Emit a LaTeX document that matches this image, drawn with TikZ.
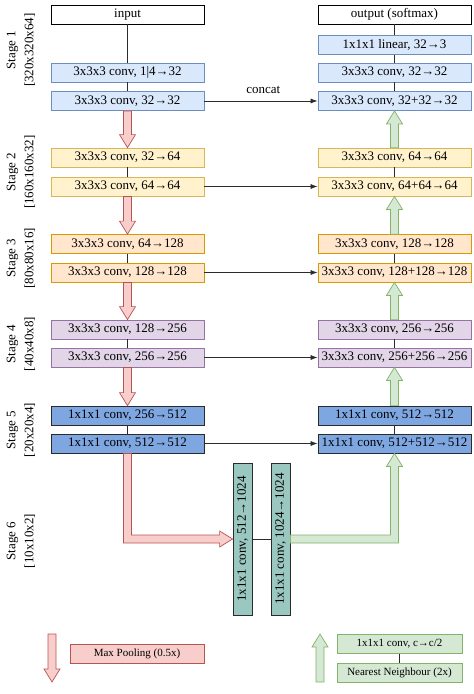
\documentclass[tikz,border=0pt]{standalone}
\usepackage{fontspec}
\setmainfont{Liberation Serif}
\usetikzlibrary{calc,arrows.meta}
\definecolor{blueF}{HTML}{DAE8FC}
\definecolor{blueD}{HTML}{6C8EBF}
\definecolor{yellowF}{HTML}{FFF2CC}
\definecolor{yellowD}{HTML}{D6B656}
\definecolor{orangeF}{HTML}{FFE6CC}
\definecolor{orangeD}{HTML}{D79B00}
\definecolor{purpleF}{HTML}{E1D5E7}
\definecolor{purpleD}{HTML}{9673A6}
\definecolor{dblueF}{HTML}{7EA6E0}
\definecolor{tealF}{HTML}{9AC7BF}
\definecolor{darkD}{HTML}{2B2B2B}
\definecolor{redF}{HTML}{F8CECC}
\definecolor{redD}{HTML}{B85450}
\definecolor{greenF}{HTML}{D5E8D4}
\definecolor{greenD}{HTML}{82B366}

\begin{document}
\begin{tikzpicture}[x=1pt,y=-1pt]
\tikzset{blk/.style={draw, minimum width=153pt, minimum height=19pt, inner sep=0pt, line width=0.8pt, font=\fontsize{13}{15}\selectfont},
  io/.style={blk, fill=white, draw=black},
  st1/.style={blk, fill=blueF, draw=blueD},
  st2/.style={blk, fill=yellowF, draw=yellowD},
  st3/.style={blk, fill=orangeF, draw=orangeD},
  st4/.style={blk, fill=purpleF, draw=purpleD},
  st5/.style={blk, fill=dblueF, draw=darkD},
  st6/.style={blk, minimum width=19pt, minimum height=152pt, fill=tealF, draw=darkD},
  legbox/.style={blk, font=\fontsize{11}{13}\selectfont},
  stage/.style={rotate=90, align=center, inner sep=0pt, font=\fontsize{13}{18}\selectfont},
  link/.style={draw=darkD, line width=0.7pt},
  concat/.style={link, -{Latex[length=7pt,width=5pt]}},
  pool/.style={fill=redF, draw=redD, line width=0.7pt, line join=miter},
  upsample/.style={fill=greenF, draw=greenD, line width=0.7pt, line join=miter}}
\useasboundingbox (0,0) rectangle (474,694);
% stage labels
\node[stage] (lab1) at (21,50) {Stage 1\\{}[320x320x64]};
\node[stage] (lab2) at (21,172) {Stage 2\\{}[160x160x32]};
\node[stage] (lab3) at (21,258) {Stage 3\\{}[80x80x16]};
\node[stage] (lab4) at (21,344) {Stage 4\\{}[40x40x8]};
\node[stage] (lab5) at (21,430) {Stage 5\\{}[20x20x4]};
\node[stage] (lab6) at (21,541) {Stage 6\\{}[10x10x2]};
% encoder
\node[io] (input) at (127.5,14.5) {input};
\node[st1] (s1a) at (127.5,72.5) {3x3x3 conv, 1|4→32};
\node[st1] (s1b) at (127.5,101) {3x3x3 conv, 32→32};
\node[st2] (s2a) at (127.5,157.5) {3x3x3 conv, 32→64};
\node[st2] (s2b) at (127.5,186.5) {3x3x3 conv, 64→64};
\node[st3] (s3a) at (127.5,244) {3x3x3 conv, 64→128};
\node[st3] (s3b) at (127.5,272.5) {3x3x3 conv, 128→128};
\node[st4] (s4a) at (127.5,329.5) {3x3x3 conv, 128→256};
\node[st4] (s4b) at (127.5,357.5) {3x3x3 conv, 256→256};
\node[st5] (s5a) at (127.5,415.5) {1x1x1 conv, 256→512};
\node[st5] (s5b) at (127.5,443.5) {1x1x1 conv, 512→512};
% bottleneck
\node[st6] (t1) at (242.5,539) {\rotatebox{90}{1x1x1 conv, 512→1024}};
\node[st6] (t2) at (280.5,539) {\rotatebox{90}{1x1x1 conv, 1024→1024}};
% decoder
\node[io] (output) at (394.5,14.5) {output (softmax)};
\node[st1] (lin) at (394.5,45) {1x1x1 linear, 32→3};
\node[st1] (r1a) at (394.5,72.5) {3x3x3 conv, 32→32};
\node[st1] (r1b) at (394.5,101) {3x3x3 conv, 32+32→32};
\node[st2] (r2a) at (394.5,157.5) {3x3x3 conv, 64→64};
\node[st2] (r2b) at (394.5,186.5) {3x3x3 conv, 64+64→64};
\node[st3] (r3a) at (394.5,244) {3x3x3 conv, 128→128};
\node[st3] (r3b) at (394.5,272.5) {3x3x3 conv, 128+128→128};
\node[st4] (r4a) at (394.5,329.5) {3x3x3 conv, 256→256};
\node[st4] (r4b) at (394.5,357.5) {3x3x3 conv, 256+256→256};
\node[st5] (r5a) at (394.5,415.5) {1x1x1 conv, 512→512};
\node[st5] (r5b) at (394.5,443.5) {1x1x1 conv, 512+512→512};
% links inside stages
\draw[link] (input) -- (s1a);
\draw[link] (s1a) -- (s1b);
\draw[link] (s2a) -- (s2b);
\draw[link] (s3a) -- (s3b);
\draw[link] (s4a) -- (s4b);
\draw[link] (s5a) -- (s5b);
\draw[link] (output) -- (lin);
\draw[link] (lin) -- (r1a);
\draw[link] (r1a) -- (r1b);
\draw[link] (r2a) -- (r2b);
\draw[link] (r3a) -- (r3b);
\draw[link] (r4a) -- (r4b);
\draw[link] (r5a) -- (r5b);
\draw[link] (t1) -- (t2);
% skip connections
\draw[concat] (s1b) -- node[above=4pt, pos=0.52, font=\fontsize{13}{15}\selectfont] (cc) {concat} (r1b);
\draw[concat] (s2b) -- (r2b);
\draw[concat] (s3b) -- (r3b);
\draw[concat] (s4b) -- (r4b);
\draw[concat] (s5b) -- (r5b);
% max pooling
\draw[pool] ($(s1b.south)+(-4,0)$) -- ($(s2a.north)+(-4,-13)$) -- ++(-4,0) -- (s2a.north) -- ++(8,-13) -- ++(-4,0) -- ($(s1b.south)+(4,0)$) -- cycle;
\draw[pool] ($(s2b.south)+(-4,0)$) -- ($(s3a.north)+(-4,-13)$) -- ++(-4,0) -- (s3a.north) -- ++(8,-13) -- ++(-4,0) -- ($(s2b.south)+(4,0)$) -- cycle;
\draw[pool] ($(s3b.south)+(-4,0)$) -- ($(s4a.north)+(-4,-13)$) -- ++(-4,0) -- (s4a.north) -- ++(8,-13) -- ++(-4,0) -- ($(s3b.south)+(4,0)$) -- cycle;
\draw[pool] ($(s4b.south)+(-4,0)$) -- ($(s5a.north)+(-4,-13)$) -- ++(-4,0) -- (s5a.north) -- ++(8,-13) -- ++(-4,0) -- ($(s4b.south)+(4,0)$) -- cycle;
\draw[pool] ($(s5b.south)+(-4,0)$) -- ($(s5b.south |- t1.west)+(-4,4)$) -- ($(t1.west)+(-13,4)$) -- ++(0,4) -- (t1.west) -- ++(-13,-8) -- ++(0,4) -- ($(s5b.south |- t1.west)+(4,-4)$) -- ($(s5b.south)+(4,0)$) -- cycle;
% upsampling
\draw[upsample] ($(t2.east)+(0,-4)$) -- ($(r5b.south |- t2.east)+(-4,-4)$) -- ($(r5b.south)+(-4,13)$) -- ++(-4,0) -- (r5b.south) -- ++(8,13) -- ++(-4,0) -- ($(r5b.south |- t2.east)+(4,4)$) -- ($(t2.east)+(0,4)$) -- cycle;
\draw[upsample] ($(r5a.north)+(-4,0)$) -- ($(r4b.south)+(-4,13)$) -- ++(-4,0) -- (r4b.south) -- ++(8,13) -- ++(-4,0) -- ($(r5a.north)+(4,0)$) -- cycle;
\draw[upsample] ($(r4a.north)+(-4,0)$) -- ($(r3b.south)+(-4,13)$) -- ++(-4,0) -- (r3b.south) -- ++(8,13) -- ++(-4,0) -- ($(r4a.north)+(4,0)$) -- cycle;
\draw[upsample] ($(r3a.north)+(-4,0)$) -- ($(r2b.south)+(-4,13)$) -- ++(-4,0) -- (r2b.south) -- ++(8,13) -- ++(-4,0) -- ($(r3a.north)+(4,0)$) -- cycle;
\draw[upsample] ($(r2a.north)+(-4,0)$) -- ($(r1b.south)+(-4,13)$) -- ++(-4,0) -- (r1b.south) -- ++(8,13) -- ++(-4,0) -- ($(r2a.north)+(4,0)$) -- cycle;
% legend
\coordinate (pa) at (52,634);
\coordinate (pb) at (52,682);
\draw[pool] ($(pa)+(-4,0)$) -- ($(pb)+(-4,-13)$) -- ++(-4,0) -- (pb) -- ++(8,-13) -- ++(-4,0) -- ($(pa)+(4,0)$) -- cycle;
\node[legbox, minimum width=134pt, fill=redF, draw=redD] (legpool) at (137,653.5) {Max Pooling (0.5x)};
\coordinate (ua) at (320,682);
\coordinate (ub) at (320,634);
\draw[upsample] ($(ua)+(-4,0)$) -- ($(ub)+(-4,13)$) -- ++(-4,0) -- (ub) -- ++(8,13) -- ++(-4,0) -- ($(ua)+(4,0)$) -- cycle;
\node[legbox, minimum width=125pt, fill=greenF, draw=greenD] (legconv) at (399.5,644) {1x1x1 conv, c→c/2};
\node[legbox, minimum width=125pt, fill=greenF, draw=greenD] (legnn) at (399.5,672.5) {Nearest Neighbour (2x)};
\draw[link] (legconv) -- (legnn);
\end{tikzpicture}
\end{document}
